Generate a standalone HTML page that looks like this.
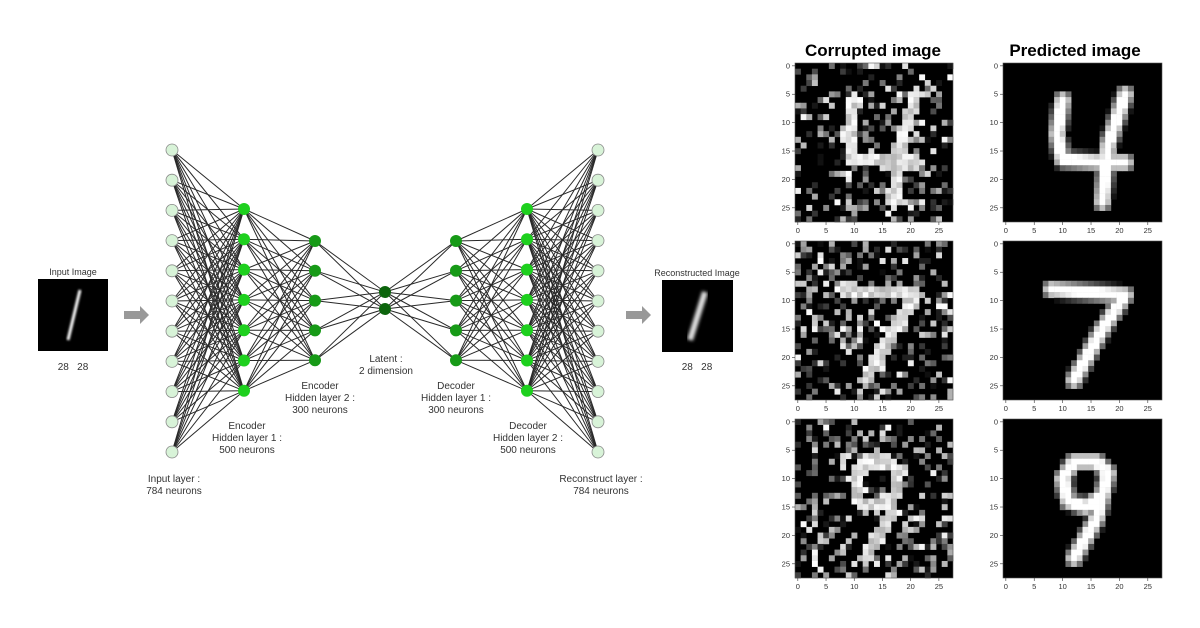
<!DOCTYPE html>
<html><head><meta charset="utf-8"><style>
html,body{margin:0;padding:0;background:#fff;}
svg{display:block;font-family:"Liberation Sans",Arial,sans-serif;}
</style></head><body>
<svg id="s" width="1200" height="628" viewBox="0 0 1200 628" xmlns="http://www.w3.org/2000/svg">
<defs>
<filter id="bl" x="-20%" y="-20%" width="140%" height="140%"><feGaussianBlur stdDeviation="1.6"/></filter>
<filter id="bl2" x="-20%" y="-20%" width="140%" height="140%"><feGaussianBlur stdDeviation="1"/></filter>
</defs>
<g id="edges" stroke="#111" stroke-width="1" opacity="0.9"></g>
<g id="nodes"></g>
<rect x="38" y="279" width="70" height="72" fill="#000"/>
<line x1="80" y1="290" x2="68" y2="340" stroke="#fff" stroke-width="3" filter="url(#bl2)"/>
<text x="73" y="275" font-size="9" text-anchor="middle" fill="#333">Input Image</text>
<text x="73" y="370" font-size="10" text-anchor="middle" fill="#333">28&#160;&#160;&#160;28</text>
<polygon points="124,311 140,311 140,306 149,315 140,324 140,319 124,319" fill="#999"/>
<polygon points="626,311 642,311 642,306 651,315 642,324 642,319 626,319" fill="#999"/>
<rect x="662" y="280" width="71" height="72" fill="#000"/>
<line x1="705" y1="292" x2="690" y2="340" stroke="#ddd" stroke-width="6" filter="url(#bl)"/>
<text x="697" y="276" font-size="9" text-anchor="middle" fill="#333">Reconstructed Image</text>
<text x="697" y="370" font-size="10" text-anchor="middle" fill="#333">28&#160;&#160;&#160;28</text>
<g font-size="10" fill="#333" text-anchor="middle">
<text x="174" y="482">Input layer :</text><text x="174" y="494">784 neurons</text>
<text x="247" y="429">Encoder</text><text x="247" y="441">Hidden layer 1 :</text><text x="247" y="453">500 neurons</text>
<text x="320" y="389">Encoder</text><text x="320" y="401">Hidden layer 2 :</text><text x="320" y="413">300 neurons</text>
<text x="386" y="362">Latent :</text><text x="386" y="374">2 dimension</text>
<text x="456" y="389">Decoder</text><text x="456" y="401">Hidden layer 1 :</text><text x="456" y="413">300 neurons</text>
<text x="528" y="429">Decoder</text><text x="528" y="441">Hidden layer 2 :</text><text x="528" y="453">500 neurons</text>
<text x="601" y="482">Reconstruct layer :</text><text x="601" y="494">784 neurons</text>
</g>
<text x="873" y="56" font-size="17" font-weight="bold" text-anchor="middle" fill="#000">Corrupted image</text>
<text x="1075" y="56" font-size="17" font-weight="bold" text-anchor="middle" fill="#000">Predicted image</text>
<g id="plots"></g>
<g id="ticks" font-size="7.5" fill="#333"></g>
</svg>
<script>
var NS="http://www.w3.org/2000/svg";
function el(p,t,a){var e=document.createElementNS(NS,t);for(var k in a)e.setAttribute(k,a[k]);p.appendChild(e);return e;}
var E=document.getElementById('edges'),N=document.getElementById('nodes');
function col(x,n,y0,step){var r=[];for(var i=0;i<n;i++)r.push([x,y0+i*step]);return r;}
var L=[col(172,11,150,30.2),col(244,7,209,30.3),col(315,5,241,29.8),col(385,2,292,17),col(456,5,241,29.8),col(527,7,209,30.3),col(598,11,150,30.2)];
var fills=["#d8f3d8","#1ed01e","#179a17","#0c640c","#179a17","#1ed01e","#d8f3d8"];
for(var l=0;l<L.length-1;l++)for(var a of L[l])for(var b of L[l+1])el(E,'line',{x1:a[0],y1:a[1],x2:b[0],y2:b[1]});
L.forEach(function(ly,i){ly.forEach(function(p){el(N,'circle',{cx:p[0],cy:p[1],r:6,fill:fills[i],stroke:(i==0||i==6)?"#8a8a8a":"none","stroke-width":0.8});});});
var s=7;function rnd(){s|=0;s=s+0x6D2B79F5|0;var t=Math.imul(s^s>>>15,1|s);t=t+Math.imul(t^t>>>7,61|t)^t;return((t^t>>>14)>>>0)/4294967296;}
var P=document.getElementById('plots'),T=document.getElementById('ticks');
var digits=[
 "M10,6 L9,12 L10,16.5 L17,17 L21,17 M21,5 L18,14 L17,24",
 "M8,8 L21,9 L17,15 L12,24",
 "M18,9 L16,7 L12,7 L10,10 L11,14 L14,15 L17,13 L18,9 L16,17 L12,24"];
function dseg(d){var cmds=d.match(/[ML][^ML]*/g),segs=[],cur=null;cmds.forEach(function(c){var n=c.slice(1).trim().split(/[ ,]+/).map(Number);if(c[0]=='M'){cur=[n[0],n[1]];}else{segs.push([cur[0],cur[1],n[0],n[1]]);cur=[n[0],n[1]];}});return segs;}
function dist(px,py,sg){var m=1e9;sg.forEach(function(q){var dx=q[2]-q[0],dy=q[3]-q[1],t=((px-q[0])*dx+(py-q[1])*dy)/(dx*dx+dy*dy);t=Math.max(0,Math.min(1,t));var x=q[0]+t*dx-px,y=q[1]+t*dy-py;m=Math.min(m,Math.sqrt(x*x+y*y));});return m;}
function plot(x,y,w,h,di,noisy){
 el(P,'rect',{x:x,y:y,width:w,height:h,fill:"#000"});
 var pw=w/28,ph=h/28,sg=dseg(digits[di]);
 for(var r=0;r<28;r++)for(var c=0;c<28;c++){
  var d=dist(c,r,sg),v;
  if(noisy){v=0;if(rnd()<0.4)v=Math.pow(rnd(),1.4);if(d<1.2)v=Math.max(v,0.7+0.3*rnd());}
  else{v=Math.max(0,Math.min(1,1.5-d*0.75));}
  if(v>0.05){var g=Math.round(v*255);el(P,'rect',{x:(x+c*pw).toFixed(2),y:(y+r*ph).toFixed(2),width:(pw+0.3).toFixed(2),height:(ph+0.3).toFixed(2),fill:"rgb("+g+","+g+","+g+")"});}
 }
 el(P,'rect',{x:x,y:y,width:w,height:h,fill:"none",stroke:"#555","stroke-width":0.6});
 [0,5,10,15,20,25].forEach(function(v){
  var ty=y+(v+0.5)*ph,tx=x+(v+0.5)*pw;
  el(T,'line',{x1:x-3,y1:ty,x2:x,y2:ty,stroke:"#333","stroke-width":0.6});
  el(T,'line',{x1:tx,y1:y+h,x2:tx,y2:y+h+3,stroke:"#333","stroke-width":0.6});
  var a=el(T,'text',{x:x-5,y:ty+2.5,"text-anchor":"end"});a.textContent=v;
  var b=el(T,'text',{x:tx,y:y+h+11,"text-anchor":"middle"});b.textContent=v;
 });
}
var rows=[63,241,419];
rows.forEach(function(ry,i){plot(795,ry,158,159,i,true);plot(1003,ry,159,159,i,false);});
</script>
</body></html>
